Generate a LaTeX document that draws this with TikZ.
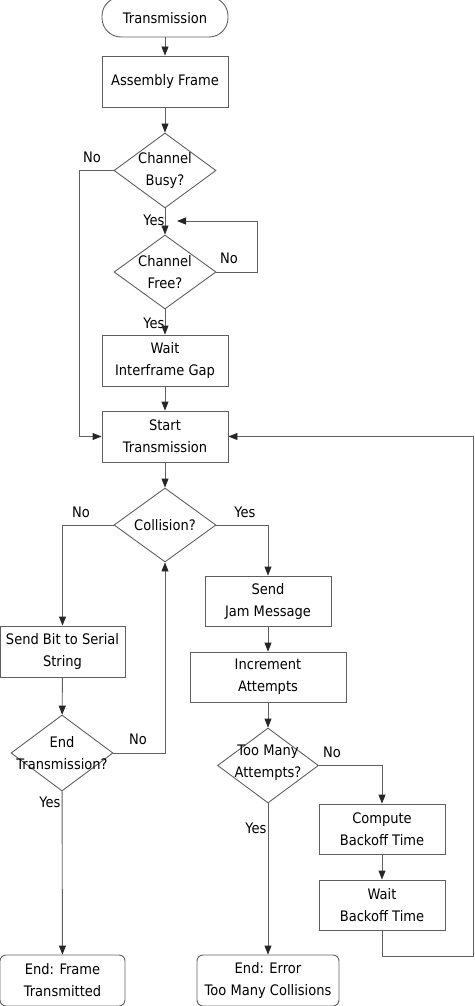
\documentclass[tikz,border=0pt]{standalone}
\usepackage{fontspec}
\setmainfont{DejaVu Sans}[FakeStretch=0.9]
\usetikzlibrary{shapes.geometric,arrows.meta}
\definecolor{linec}{RGB}{95,95,95}
\begin{document}
\begin{tikzpicture}[x=1pt,y=-1pt,
  line/.style={draw=linec, line width=0.9pt},
  arr/.style={line, -{Triangle[length=9pt,width=7pt,color=black!85]}},
  fnt/.style={font=\fontsize{14.5}{22}\selectfont},
  box/.style={line, fnt, rectangle, minimum width=126pt, minimum height=51pt, inner sep=0pt, align=center},
  term/.style={box, rounded corners=6pt},
  dia/.style={line, diamond, minimum width=102pt, minimum height=75pt, inner sep=0pt},
  txt/.style={fnt, align=center, inner sep=0pt},
  lbl/.style={fnt, inner sep=0pt}
]
\clip (0,0) rectangle (474,1006);
% nodes
\node[box, rounded corners=19pt, minimum height=40pt] (start) at (165,17) {};
\node[txt] (startT) at (165,18) {Transmission};
\node[box] (asm) at (165,81.5) {Assembly Frame};
\node[dia] (busy) at (165,170.5) {};
\node[txt] (busyT) at (busy) {Channel\\Busy?};
\node[dia, minimum height=74pt] (free) at (165,272) {};
\node[txt] (freeT) at (free) {Channel\\Free?};
\node[box] (wait) at (165,360.5) {Wait\\Interframe Gap};
\node[box] (st) at (165,436.5) {Start\\Transmission};
\node[dia, minimum height=74pt] (coll) at (165,525) {};
\node[txt] (collT) at (coll) {Collision?};
\node[box, minimum height=50pt] (jam) at (268,601) {Send\\Jam Message};
\node[box, minimum width=156pt, minimum height=50pt] (inc) at (268,677) {Increment\\Attempts};
\node[box, minimum width=125pt] (sendbit) at (62.5,651.5) {Send Bit to Serial\\String};
\node[dia, minimum height=76pt] (endtx) at (62,753) {};
\node[txt] (endtxT) at (endtx) {End\\Transmission?};
\node[dia, minimum width=101pt] (many) at (268,765.5) {};
\node[txt] (manyT) at ([yshift=3pt]many.center) {Too Many\\Attempts?};
\node[box, minimum height=50pt] (comp) at (382,829) {Compute\\Backoff Time};
\node[box, minimum height=50pt] (waitb) at (382,905) {Wait\\Backoff Time};
\node[term, minimum width=125pt] (endf) at (62.5,980.5) {End: Frame\\Transmitted};
\node[term, minimum width=142pt] (ende) at (268,980.5) {End: Error\\Too Many Collisions};
% labels
\node[lbl] (l1) at (92,157) {No};
\node[lbl] (l2) at (154,220) {Yes};
\node[lbl] (l3) at (229,258) {No};
\node[lbl] (l4) at (154,323) {Yes};
\node[lbl] (l5) at (81,512) {No};
\node[lbl] (l6) at (245,512) {Yes};
\node[lbl] (l7) at (138,739) {No};
\node[lbl] (l8) at (50,802) {Yes};
\node[lbl] (l9) at (332,752) {No};
\node[lbl] (l10) at (256,828) {Yes};
% helper coordinates
\coordinate (busyNo) at (79,170.5);
\coordinate (freeR) at (257,272);
\coordinate (freeUp) at (257,221);
\coordinate (freeIn) at (177,221);
\coordinate (c1) at (382,956);
\coordinate (c2) at (473,956);
% connectors
\draw[arr] (start) -- (asm);
\draw[arr] (asm) -- (busy);
\draw[arr] (busy) -- (free);
\draw[arr] (busy.west) -- (busyNo) |- (st.west);
\draw[arr] (free.east) -- (freeR) -- (freeUp) -- (freeIn);
\draw[arr] (free) -- (wait);
\draw[arr] (wait) -- (st);
\draw[arr] (st) -- (coll);
\draw[arr] (coll.west) -| (sendbit.north);
\draw[arr] (coll.east) -| (jam.north);
\draw[arr] (jam) -- (inc);
\draw[arr] (inc) -- (many);
\draw[arr] (many.east) -| (comp.north);
\draw[arr] (comp) -- (waitb);
\draw[arr] (waitb.south) -- (c1) -- (c2) |- (st.east);
\draw[arr] (many) -- (ende);
\draw[arr] (sendbit) -- (endtx);
\draw[arr] (endtx.east) -| (coll.south);
\draw[arr] (endtx) -- (endf);
\end{tikzpicture}
\end{document}
